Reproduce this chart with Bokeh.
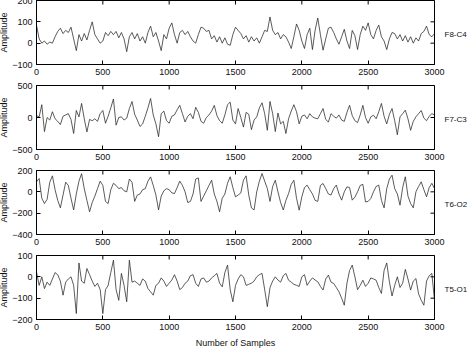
from bokeh.plotting import figure
from bokeh.models import FixedTicker, LinearAxis, Range1d
from bokeh.layouts import column
from bokeh.embed import file_html
from bokeh.resources import INLINE

samples = list(range(0, 3001, 20))

channel_names = ["F8-C4", "F7-C3", "T6-O2", "T5-O1"]
x_ticks = [0, 500, 1000, 1500, 2000, 2500, 3000]
y_ticks_f8 = [-100, 0, 100, 200]
y_ticks_f7 = [-500, 0, 500]
y_ticks_t6 = [-400, -200, 0, 200]
y_ticks_t5 = [-200, -100, 0, 100]

f8_c4 = [84, 20, 0, 10, -5, 5, 0, 30, 55, 70,
         45, 60, 50, 75, 20, -35, 40, 10, 45, 15,
         60, 100, 40, 20, 0, 10, 50, 35, 55, 40,
         55, 25, 50, 20, -40, 30, 50, 20, 45, 10,
         30, 0, 50, 80, 30, 50, 10, -35, 40, 20,
         70, 95, 40, 0, 50, 60, 40, 55, 30, 10,
         0, 40, 75, 70, 55, 60, 20, 35, 5, 30,
         0, 25, -5, -10, 40, 75, 60, 45, 20, 35,
         5, 30, 10, 25, 0, 30, 60, 55, 123, 60,
         40, 50, 20, 40, 30, 5, -25, 30, 90, 60,
         10, -25, 40, 70, -30, 60, 118, 40, -33, 20,
         70, 75, 50, 20, -5, 30, 65, 10, -25, 60,
         35, -30, 40, 80, 60, 95, 40, 20, 60, 85,
         30, 10, -30, 20, 50, 45, 20, 40, 10, 35,
         5, 30, 0, 25, 10, 45, 55, 80, 40, 30,
         45]

f7_c3 = [30, 10, 200, -220, 0, -40, 90, -20, -60, -110,
         20, 40, 60, -30, -250, 110, 10, 220, -20, -225,
         -30, -50, -20, -60, 60, 110, -90, 20, 150, 290,
         -120, 0, 10, -40, -10, 140, 250, 50, -40, -140,
         -100, 20, 150, 297, 40, -100, -300, 60, 100, -50,
         -90, 20, 40, 120, 190, 60, -70, 20, 60, -20,
         160, 80, -60, -90, 0, 40, 100, 190, 30, -50,
         -90, 40, 200, 240, -40, -100, 140, 0, -150, 80,
         50, -190, -40, 10, 150, 230, 60, -200, 250, 60,
         -220, 70, -100, -60, -250, -20, 100, 200, 90, -100,
         20, 40, -20, 60, 10, -10, -20, 60, 140, -30,
         -70, 60, 20, -10, 40, -40, -60, 80, 190, 30,
         -50, -80, 40, 190, 0, -90, 10, 36, -20, 90,
         220, 20, -100, 50, 140, -50, -270, 10, 60, 115,
         -20, -200, -60, 10, 60, 110, -10, -50, 20, 60,
         40]

t6_o2 = [94, 125, -60, -110, -70, 90, 150, 20, -80, -150,
         -30, 90, 60, -60, -170, -20, 100, 170, 30, -80,
         -187, -100, -40, 30, 100, 60, -90, -110, 20, 80,
         60, 30, 40, 10, 0, 120, 90, -90, -30, -20,
         20, 30, 100, 140, 60, -30, -170, -40, 10, 30,
         20, -10, -16, 40, 100, 60, 0, -100, -90, -20,
         120, 130, -90, -40, 10, 60, 109, -20, -90, -187,
         -60, -20, 80, 141, 40, -47, -30, -10, 110, 150,
         -31, -150, -170, 0, 100, 172, 100, 31, -90, 50,
         109, 0, -100, -170, -80, -16, 70, 109, -60, -172,
         -47, 40, 63, 20, -20, -80, -90, 60, 78, 31,
         -20, -30, 30, 63, -20, -78, 0, 47, 40, -78,
         -50, 0, 60, 70, -94, -90, -62, 0, 50, 63,
         -80, -150, 30, 120, 156, 30, -20, -125, 40, 141,
         -40, -110, -150, 0, 50, 94, 20, -47, 40, 80,
         31]

t5_o1 = [23, -40, 0, -55, -25, -40, -10, 20, 10, -20,
         -86, -25, -10, 0, -40, -172, 65, -20, -30, 39,
         10, -20, -45, -30, -60, -172, -60, -40, 20, 78,
         -60, -110, 16, -40, -117, 78, -25, -20, -30, -40,
         -10, -20, -55, -70, -86, -40, -30, -5, -20, -45,
         -30, -15, 10, -20, -60, -50, -30, -20, 5, 10,
         -30, -45, -10, -5, -25, -20, -5, 5, 16, -30,
         -47, 20, 55, -60, -117, -40, -10, 10, 0, -40,
         -35, -30, -20, 0, 10, 16, -60, -140, -50, -20,
         0, -15, -25, 5, 16, -16, -25, -35, -40, -45,
         0, 10, -40, -20, -5, -15, -23, -45, -62, -10,
         8, -25, -31, -50, -70, -100, -133, -30, 30, 55,
         0, -60, -40, -16, -45, -30, -5, -10, -16, -50,
         -78, 30, 65, -23, -90, -40, 0, -50, -30, 35,
         -10, -62, -20, -8, -80, -110, -133, -20, 5, 16,
         -110]

FONT = "Liberation Sans"
TXT = "#111111"


def style_axis(ax):
    ax.major_tick_in = 4
    ax.major_tick_out = 0
    ax.minor_tick_line_color = None
    ax.axis_line_color = "#000000"
    ax.major_tick_line_color = "#000000"
    ax.major_label_text_font = FONT
    ax.major_label_text_color = TXT
    ax.major_label_text_font_size = "9px"
    ax.major_label_standoff = 4
    ax.axis_label_text_font = FONT
    ax.axis_label_text_font_size = "9px"
    ax.axis_label_text_font_style = "normal"
    ax.axis_label_text_color = TXT


def make_panel(vals, yticks, name, bottom):
    p = figure(width=474, height=109 if bottom else 85,
               x_range=Range1d(x_ticks[0], x_ticks[-1]),
               y_range=Range1d(yticks[0], yticks[-1]),
               output_backend="svg", toolbar_location=None,
               min_border_left=36, min_border_right=36,
               min_border_top=4, min_border_bottom=41 if bottom else 17)
    p.xgrid.visible = False
    p.ygrid.visible = False
    p.outline_line_color = "#000000"
    p.background_fill_color = "white"
    p.border_fill_color = "white"
    p.line(samples, vals, line_color="#262626", line_width=0.75)

    xax = p.xaxis[0]
    yax = p.yaxis[0]
    xax.ticker = FixedTicker(ticks=x_ticks)
    yax.ticker = FixedTicker(ticks=yticks)
    style_axis(xax)
    style_axis(yax)
    yax.axis_label = "Amplitude"
    yax.axis_label_standoff = 0
    if bottom:
        xax.axis_label = "Number of Samples"
        xax.axis_label_standoff = 5

    # inward tick marks on the top and right edges of the box
    p.scatter(x=x_ticks, y=[yticks[-1]] * len(x_ticks), marker="dash",
              angle=1.5708, size=8, line_color="#000000", line_width=1)
    p.scatter(x=[x_ticks[-1]] * len(yticks), y=yticks, marker="dash",
              size=8, line_color="#000000", line_width=1)

    # channel name at the right of the box
    label_y = (yticks[0] + yticks[-1]) / 2.0 - (yticks[-1] - yticks[0]) * 0.03
    rax = LinearAxis(ticker=FixedTicker(ticks=[label_y]),
                     major_label_overrides={label_y: name})
    rax.major_tick_in = 0
    rax.major_tick_out = 0
    rax.minor_tick_line_color = None
    rax.axis_line_color = None
    rax.major_tick_line_color = None
    rax.major_label_standoff = 10
    rax.major_label_text_font = FONT
    rax.major_label_text_font_size = "8px"
    rax.major_label_text_color = TXT
    p.add_layout(rax, "right")
    return p


p1 = make_panel(f8_c4, y_ticks_f8, channel_names[0], False)
p2 = make_panel(f7_c3, y_ticks_f7, channel_names[1], False)
p3 = make_panel(t6_o2, y_ticks_t6, channel_names[2], False)
p4 = make_panel(t5_o1, y_ticks_t5, channel_names[3], True)

layout = column(p1, p2, p3, p4, spacing=0, margin=(-4, 0, -4, -4))

open("out.html", "w").write(file_html(layout, INLINE))
